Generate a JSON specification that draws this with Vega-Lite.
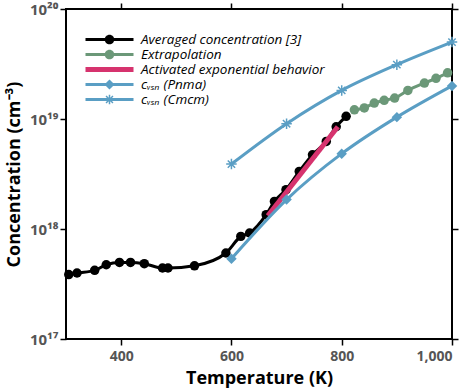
{
  "$schema": "https://vega.github.io/schema/vega-lite/v6.json",
  "width": 386,
  "height": 330,
  "autosize": {"type": "none"},
  "padding": {"left": 66, "top": 9, "right": 22, "bottom": 51},
  "background": "white",
  "config": {
    "view": {"stroke": "#000", "strokeWidth": 2},
    "font": "Open Sans"
  },
  "data": {
    "values": [
      {"s": "Averaged concentration [3]", "T": 305, "c": 3.85e17},
      {"s": "Averaged concentration [3]", "T": 320, "c": 3.98e17},
      {"s": "Averaged concentration [3]", "T": 352, "c": 4.21e17},
      {"s": "Averaged concentration [3]", "T": 373, "c": 4.73e17},
      {"s": "Averaged concentration [3]", "T": 397, "c": 4.97e17},
      {"s": "Averaged concentration [3]", "T": 417, "c": 4.97e17},
      {"s": "Averaged concentration [3]", "T": 442, "c": 4.84e17},
      {"s": "Averaged concentration [3]", "T": 475, "c": 4.42e17},
      {"s": "Averaged concentration [3]", "T": 485, "c": 4.42e17},
      {"s": "Averaged concentration [3]", "T": 533, "c": 4.63e17},
      {"s": "Averaged concentration [3]", "T": 590, "c": 6.05e17},
      {"s": "Averaged concentration [3]", "T": 617, "c": 8.57e17},
      {"s": "Averaged concentration [3]", "T": 633, "c": 9.2e17},
      {"s": "Averaged concentration [3]", "T": 663, "c": 1.35e18},
      {"s": "Averaged concentration [3]", "T": 678, "c": 1.78e18},
      {"s": "Averaged concentration [3]", "T": 699, "c": 2.28e18},
      {"s": "Averaged concentration [3]", "T": 723, "c": 3.34e18},
      {"s": "Averaged concentration [3]", "T": 747, "c": 4.73e18},
      {"s": "Averaged concentration [3]", "T": 772, "c": 6.25e18},
      {"s": "Averaged concentration [3]", "T": 790, "c": 8.5e18},
      {"s": "Averaged concentration [3]", "T": 808, "c": 1.057e19},
      {"s": "Extrapolation", "T": 823, "c": 1.213e19},
      {"s": "Extrapolation", "T": 841, "c": 1.26e19},
      {"s": "Extrapolation", "T": 859, "c": 1.396e19},
      {"s": "Extrapolation", "T": 877, "c": 1.479e19},
      {"s": "Extrapolation", "T": 896, "c": 1.549e19},
      {"s": "Extrapolation", "T": 920, "c": 1.82e19},
      {"s": "Extrapolation", "T": 950, "c": 2.123e19},
      {"s": "Extrapolation", "T": 971, "c": 2.344e19},
      {"s": "Extrapolation", "T": 992, "c": 2.63e19},
      {"s": "Activated exponential behavior", "T": 666, "c": 1.32e18},
      {"s": "Activated exponential behavior", "T": 793, "c": 8.5e18},
      {"s": "cᵥₛₙ (Pnma)", "T": 600, "c": 5.37e17},
      {"s": "cᵥₛₙ (Pnma)", "T": 700, "c": 1.85e18},
      {"s": "cᵥₛₙ (Pnma)", "T": 800, "c": 4.84e18},
      {"s": "cᵥₛₙ (Pnma)", "T": 900, "c": 1.04e19},
      {"s": "cᵥₛₙ (Pnma)", "T": 1000, "c": 2.0e19},
      {"s": "cᵥₛₙ (Cmcm)", "T": 600, "c": 3.89e18},
      {"s": "cᵥₛₙ (Cmcm)", "T": 700, "c": 9.06e18},
      {"s": "cᵥₛₙ (Cmcm)", "T": 800, "c": 1.82e19},
      {"s": "cᵥₛₙ (Cmcm)", "T": 900, "c": 3.12e19},
      {"s": "cᵥₛₙ (Cmcm)", "T": 1000, "c": 5.0e19}
    ]
  },
  "encoding": {
    "x": {"field": "T", "type": "quantitative", "scale": {"domain": [300, 1000], "nice": false, "zero": false}, "axis": null},
    "y": {"field": "c", "type": "quantitative", "scale": {"type": "log", "domain": [1e17, 1e20], "nice": false}, "axis": null},
    "color": {
      "field": "s", "type": "nominal",
      "scale": {
        "domain": ["Averaged concentration [3]", "Extrapolation", "Activated exponential behavior", "cᵥₛₙ (Pnma)", "cᵥₛₙ (Cmcm)"],
        "range": ["#000000", "#6b9878", "#d6336e", "#5a9ec4", "#5a9ec4"]
      },
      "legend": {
        "orient": "none", "legendX": 36, "legendY": 23, "title": null,
        "labelFont": "Open Sans", "labelFontStyle": "italic", "labelFontSize": 13.5, "labelColor": "#000", "labelLimit": 300,
        "symbolSize": 225, "labelOffset": 24, "rowPadding": 1,
        "encode": {
          "symbols": {
            "update": {
              "shape": {"signal": "datum.value === 'Activated exponential behavior' ? 'M-3.2,-0.33H3.2V0.33H-3.2Z' : datum.value === 'cᵥₛₙ (Pnma)' ? 'M-3.2,-0.2H3.2V0.2H-3.2ZM0,-0.67L0.67,0L0,0.67L-0.67,0Z' : datum.value === 'cᵥₛₙ (Cmcm)' ? 'M-3.2,-0.2H3.2V0.2H-3.2ZM-0.1,-0.64H0.1V0.64H-0.1ZM-0.39,-0.53L0.53,0.39L0.39,0.53L-0.53,-0.39ZM-0.39,0.53L-0.53,0.39L0.39,-0.53L0.53,-0.39Z' : 'M-3.2,-0.2H3.2V0.2H-3.2ZM-0.64,0A0.64,0.64 0 1,1 0.64,0A0.64,0.64 0 1,1 -0.64,0Z'"},
              "fill": {"scale": "color", "field": "value"},
              "stroke": {"value": "transparent"},
              "strokeWidth": {"value": 0},
              "opacity": {"value": 1}
            }
          }
        }
      }
    }
  },
  "layer": [
    {
      "transform": [{"filter": "datum.s === 'Averaged concentration [3]'"}],
      "mark": {"type": "line", "interpolate": "monotone", "strokeWidth": 3},
      "encoding": {
        "x": {"field": "T", "type": "quantitative", "scale": {"domain": [300, 1000], "nice": false, "zero": false}, "axis": {
          "orient": "bottom", "values": [400, 600, 800, 1000], "labelExpr": "format(datum.value, ',')", "grid": false, "domain": false,
          "tickSize": 6, "tickWidth": 1.5, "tickColor": "#000", "labelPadding": 4,
          "labelFont": "Open Sans", "labelFontSize": 14, "labelFontWeight": "bold", "labelColor": "#555",
          "title": "Temperature (K)", "titleFont": "Open Sans", "titleFontSize": 18, "titleFontWeight": "bold", "titleColor": "#000", "titlePadding": 6,
          "encode": {"ticks": {"update": {"y2": {"value": -6}}}}
        }},
        "y": {"field": "c", "type": "quantitative", "scale": {"type": "log", "domain": [1e17, 1e20], "nice": false}, "axis": {
          "orient": "left", "values": [1e17, 1e18, 1e19, 1e20], "grid": false, "domain": false,
          "labelExpr": "'10' + (datum.value < 5e17 ? '¹⁷' : datum.value < 5e18 ? '¹⁸' : datum.value < 5e19 ? '¹⁹' : '²⁰')",
          "tickSize": 6, "tickWidth": 1.5, "tickColor": "#000", "labelPadding": 2,
          "labelFont": "Open Sans", "labelFontSize": 15, "labelFontWeight": "bold", "labelColor": "#555",
          "title": "Concentration (cm⁻³)", "titleFont": "Open Sans", "titleFontSize": 18, "titleFontWeight": "bold", "titleColor": "#000", "titlePadding": 6,
          "encode": {"ticks": {"update": {"x2": {"value": 6}}}}
        }}
      }
    },
    {
      "transform": [{"filter": "datum.s === 'Averaged concentration [3]'"}],
      "mark": {"type": "point", "shape": "circle", "filled": true, "size": 90, "opacity": 1},
      "encoding": {
        "x": {"field": "T", "type": "quantitative", "scale": {"domain": [300, 1000], "nice": false, "zero": false}, "axis": {"orient": "top", "values": [400, 600, 800, 1000], "labels": false, "title": null, "grid": false, "domain": false, "tickSize": 6, "tickWidth": 1.5, "tickColor": "#000", "encode": {"ticks": {"update": {"y2": {"value": 6}}}}}},
        "y": {"field": "c", "type": "quantitative", "scale": {"type": "log", "domain": [1e17, 1e20], "nice": false}, "axis": {"orient": "right", "values": [1e17, 1e18, 1e19, 1e20], "labels": false, "title": null, "grid": false, "domain": false, "tickSize": 6, "tickWidth": 1.5, "tickColor": "#000", "encode": {"ticks": {"update": {"x2": {"value": -6}}}}}}
      }
    },
    {
      "transform": [{"filter": "datum.s === 'Extrapolation'"}],
      "mark": {"type": "line", "interpolate": "monotone", "strokeWidth": 3},
      "encoding": {}
    },
    {
      "transform": [{"filter": "datum.s === 'Extrapolation'"}],
      "mark": {"type": "point", "shape": "circle", "filled": true, "size": 90, "opacity": 1},
      "encoding": {}
    },
    {
      "transform": [{"filter": "datum.s === 'Activated exponential behavior'"}],
      "mark": {"type": "line", "strokeWidth": 5, "strokeCap": "butt"},
      "encoding": {}
    },
    {
      "transform": [{"filter": "datum.s === 'cᵥₛₙ (Pnma)' || datum.s === 'cᵥₛₙ (Cmcm)'"}],
      "mark": {"type": "line", "interpolate": "monotone", "strokeWidth": 3},
      "encoding": {}
    },
    {
      "transform": [{"filter": "datum.s === 'cᵥₛₙ (Pnma)'"}],
      "mark": {"type": "point", "shape": "diamond", "filled": true, "size": 110, "opacity": 1},
      "encoding": {}
    },
    {
      "transform": [{"filter": "datum.s === 'cᵥₛₙ (Cmcm)'"}],
      "mark": {"type": "point", "shape": "M-1,0H1M0,-1V1M-0.7,-0.7L0.7,0.7M-0.7,0.7L0.7,-0.7", "filled": false, "size": 110, "strokeWidth": 1.5, "opacity": 1},
      "encoding": {}
    }
  ]
}
